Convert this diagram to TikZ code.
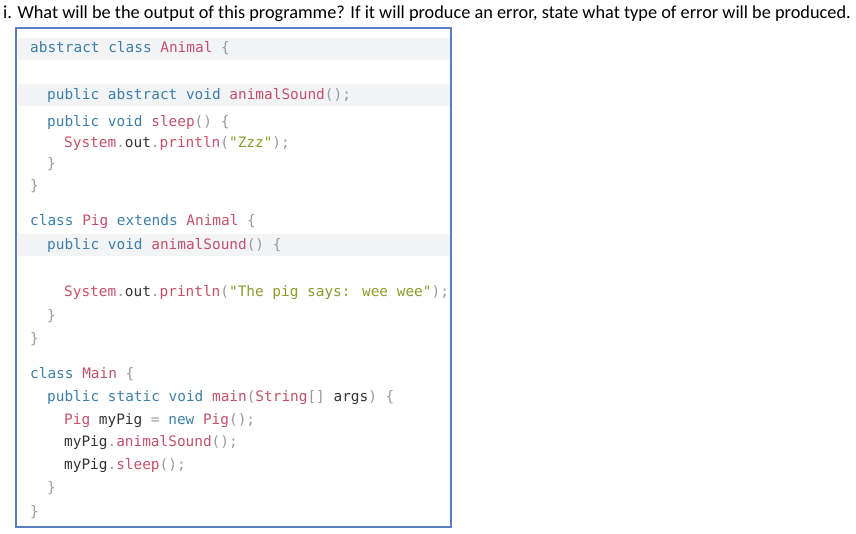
\documentclass[tikz,border=0pt]{standalone}
\usepackage{fontspec}
\setmainfont{Carlito}
\newfontfamily\codefont{DejaVu Sans Mono}[Scale=0.93]
\definecolor{kw}{HTML}{3C7FA8}
\definecolor{nm}{HTML}{C4506E}
\definecolor{st}{HTML}{8C9A2C}
\definecolor{pu}{HTML}{999999}
\definecolor{tx}{HTML}{333333}
\definecolor{frame}{HTML}{5B7EC2}
\definecolor{band}{HTML}{F3F4F6}
\newcommand{\K}[1]{\textcolor{kw}{#1}}
\newcommand{\N}[1]{\textcolor{nm}{#1}}
\newcommand{\Sg}[1]{\textcolor{st}{#1}}
\newcommand{\Pu}[1]{\textcolor{pu}{#1}}
\newcommand{\T}[1]{\textcolor{tx}{#1}}
\begin{document}
\begin{tikzpicture}[x=1pt,y=-1pt,
  code/.style={anchor=base west,inner sep=0pt,font=\codefont\fontsize{15.5}{17}\selectfont},
  title/.style={anchor=base west,inner sep=0pt,font=\fontsize{18.3}{21}\selectfont}]
\useasboundingbox (0,0) rectangle (856,534);
\fill[band] (18,38) rectangle (450,60);
\fill[band] (18,84) rectangle (450,106);
\fill[band] (18,234) rectangle (450,256);
\node[title] (q) at (3,19) {i. What will be the output of this programme? If it will produce an error, state what type of error will be produced.};
\draw[frame,line width=1.2pt] (16,28) rectangle (451,527);
\node[code] (l1) at (30,53) {\K{abstract class} \N{Animal} \Pu{\{}};
\node[code] (l2) at (47,100) {\K{public abstract void} \N{animalSound}\Pu{();}};
\node[code] (l3) at (47,127) {\K{public void} \N{sleep}\Pu{() \{}};
\node[code] (l4) at (64,148) {\N{System}\Pu{.}\T{out}\Pu{.}\N{println}\Pu{(}\Sg{"Zzz"}\Pu{);}};
\node[code] (l5) at (47,169) {\Pu{\}}};
\node[code] (l6) at (30,191) {\Pu{\}}};
\node[code] (l7) at (30,226) {\K{class} \N{Pig} \K{extends} \N{Animal} \Pu{\{}};
\node[code] (l8) at (47,250) {\K{public void} \N{animalSound}\Pu{() \{}};
\node[code] (l9) at (64,297) {\N{System}\Pu{.}\T{out}\Pu{.}\N{println}\Pu{(}\Sg{"The pig says: wee wee"}\Pu{);}};
\node[code] (l10) at (47,321) {\Pu{\}}};
\node[code] (l11) at (30,343) {\Pu{\}}};
\node[code] (l12) at (30,378) {\K{class} \N{Main} \Pu{\{}};
\node[code] (l13) at (47,401) {\K{public static void} \N{main}\Pu{(}\N{String}\Pu{[]} \T{args}\Pu{) \{}};
\node[code] (l14) at (64,424) {\N{Pig} \T{myPig} \Pu{=} \K{new} \N{Pig}\Pu{();}};
\node[code] (l15) at (64,446) {\T{myPig}\Pu{.}\N{animalSound}\Pu{();}};
\node[code] (l16) at (64,469) {\T{myPig}\Pu{.}\N{sleep}\Pu{();}};
\node[code] (l17) at (47,492) {\Pu{\}}};
\node[code] (l18) at (30,516) {\Pu{\}}};
\end{tikzpicture}
\end{document}
